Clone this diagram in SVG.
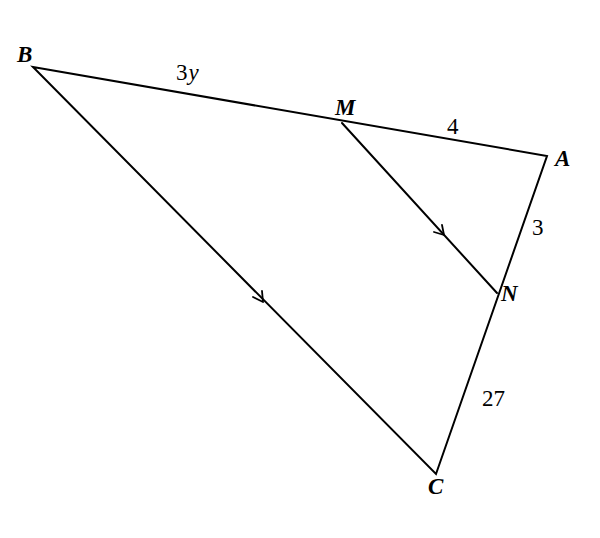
<svg xmlns="http://www.w3.org/2000/svg" width="600" height="538" viewBox="0 0 600 538">
<style>
.ln{stroke:#000;stroke-width:2;fill:none;stroke-linecap:round;stroke-linejoin:miter}
.ar{stroke:#000;stroke-width:1.8;fill:none;stroke-linecap:round;stroke-linejoin:round}
.v{font-family:"Liberation Serif","DejaVu Serif",serif;font-weight:bold;font-style:italic;font-size:23px;fill:#000}
.t{font-family:"Liberation Serif","DejaVu Serif",serif;font-size:23px;fill:#000}
</style>
<rect width="600" height="538" fill="#fff"/>
<g id="connectors">
<path class="ln" d="M33,67 L547,156 L436,474 Z"/>
<path class="ln" d="M342,123 L497,293"/>
<path class="ar" d="M253,297 L263,302 L262,291"/>
<path class="ar" d="M434,232 L444,235 L442,225"/>
</g>
<g id="B"><text class="v" x="17" y="62">B</text></g>
<g id="M"><text class="v" x="335" y="115">M</text></g>
<g id="A"><text class="v" x="555" y="166">A</text></g>
<g id="N"><text class="v" x="501" y="301">N</text></g>
<g id="C"><text class="v" x="428" y="494">C</text></g>
<g id="labels">
<text class="t" x="176" y="80">3<tspan font-style="italic" dx="1">y</tspan></text>
<text class="t" x="447" y="134">4</text>
<text class="t" x="532" y="235">3</text>
<text class="t" x="482" y="406">27</text>
</g>
</svg>
